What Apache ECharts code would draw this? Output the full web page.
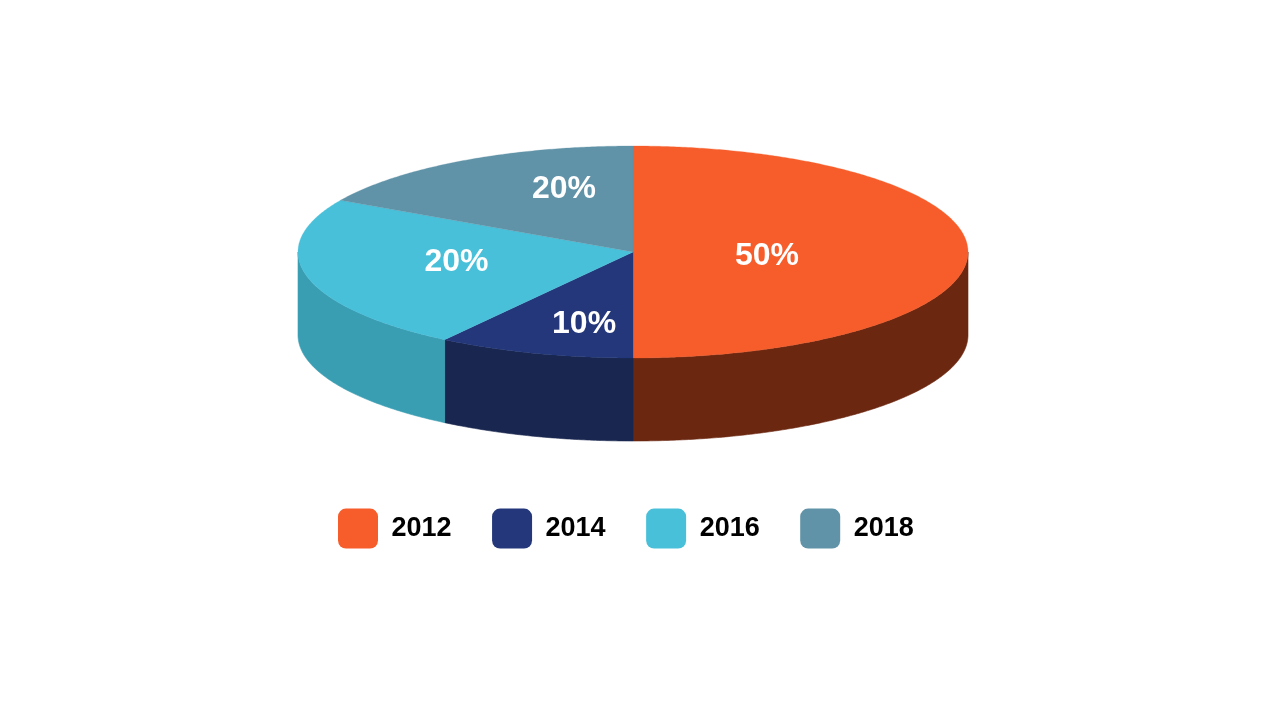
<!DOCTYPE html>
<html><head><meta charset="utf-8">
<style>html,body{margin:0;padding:0;background:#fff}#c{width:1280px;height:720px}</style>
<script src="https://cdn.jsdelivr.net/npm/echarts@6/dist/echarts.min.js"></script>
</head><body><div id="c"></div>
<script>
const categories = ['2012', '2014', '2016', '2018'];
const percentValues = [50, 10, 20, 20];
const percentLabels = ['50%', '10%', '20%', '20%'];
// Slice widths as they are drawn in the picture (it does not draw them strictly in proportion to the labels).
const drawnShares = [50, 9.5, 23.6, 16.9];
const topColors = ['#F65D2A', '#23377A', '#48C0D9', '#6093A8'];
const sideColors = ['#6B2710', '#19264F', '#3A9EB3', '#6093A8'];

const CX = 633, CY = 252, RX = 335, RY = 106, DEPTH = 83;
const labelFractions = [[0.40, 0.04], [-0.146, 0.68], [-0.527, 0.10], [-0.206, -0.59]];
const total = drawnShares.reduce((a, b) => a + b, 0);
const pt = (deg, dy) => {
  const r = deg * Math.PI / 180;
  return [CX + RX * Math.sin(r), CY - RY * Math.cos(r) + (dy || 0)];
};
const arc = (a, b, dy) => {
  const out = [], n = Math.max(2, Math.ceil(Math.abs(b - a) * 2));
  for (let i = 0; i <= n; i++) out.push(pt(a + (b - a) * i / n, dy));
  return out;
};
let cum = 0;
const ranges = drawnShares.map(s => { const a = cum / total * 360; cum += s; return [a, cum / total * 360]; });

const series = categories.map((name, idx) => ({
  name, type: 'custom', coordinateSystem: 'none',
  itemStyle: { color: topColors[idx] },
  data: [{ name, value: percentValues[idx] }],
  silent: true, animation: false,
  renderItem: () => {
    const [a, b] = ranges[idx];
    const children = [];
    const wa = Math.max(a, 90), wb = Math.min(b, 270);
    if (wb > wa) {
      children.push({ type: 'polygon',
        shape: { points: arc(wa, wb, 0).concat(arc(wb, wa, DEPTH)) },
        style: { fill: sideColors[idx], stroke: sideColors[idx], lineWidth: 0.6 } });
    }
    children.push({ type: 'polygon',
      shape: { points: [[CX, CY]].concat(arc(a, b, 0)) },
      style: { fill: topColors[idx], stroke: topColors[idx], lineWidth: 0.3 } });
    const f = labelFractions[idx];
    children.push({ type: 'text', z2: 10,
      style: { x: CX + RX * f[0], y: CY + RY * f[1], text: percentLabels[idx], fill: '#fff',
        font: 'bold 32px "Liberation Sans", Arial, sans-serif', align: 'center', verticalAlign: 'middle' } });
    return { type: 'group', children };
  }
}));

const chart = echarts.init(document.getElementById('c'), null, { renderer: 'canvas' });
chart.setOption({
  animation: false,
  backgroundColor: '#fff',
  legend: {
    data: categories.map(name => ({ name, icon: 'path://M8,0H32A8,8 0 0 1 40,8V32A8,8 0 0 1 32,40H8A8,8 0 0 1 0,32V8A8,8 0 0 1 8,0Z' })),
    left: 338, top: 508.6, itemWidth: 40, itemHeight: 40, itemGap: 40.5, selectedMode: false,
    textStyle: { color: '#000', fontWeight: 'bold', fontSize: 27, fontFamily: '"Liberation Sans", Arial, sans-serif', padding: [0, 0, 0, 8.5] },
    padding: 0
  },
  series
});
</script></body></html>
